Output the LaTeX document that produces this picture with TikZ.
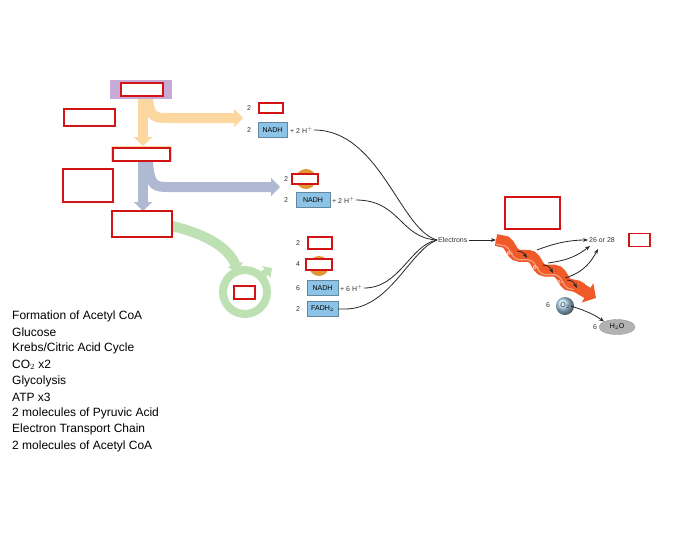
\documentclass[tikz,border=0pt]{standalone}
\usepackage{fontspec}
\setmainfont{Liberation Sans}
\usetikzlibrary{arrows.meta,decorations.pathmorphing,shapes.geometric}
\definecolor{redb}{RGB}{210,20,20}
\definecolor{nadh}{RGB}{140,195,230}
\definecolor{orng}{RGB}{252,215,160}
\definecolor{grayb}{RGB}{175,185,210}
\definecolor{grn}{RGB}{190,225,180}
\definecolor{purp}{RGB}{200,170,215}
\definecolor{etc}{RGB}{240,90,40}
\definecolor{gold}{RGB}{225,150,50}
\tikzset{
 blank/.style={draw=redb,line width=1.6pt,fill=white,inner sep=0pt},
 mol/.style={fill=nadh,draw=nadh!70!black,line width=0.3pt,font=\fontsize{7}{8}\selectfont,inner sep=1.5pt,minimum height=15pt},
 sm/.style={font=\fontsize{7}{8}\selectfont,text=black!80,inner sep=1pt},
 lst/.style={font=\fontsize{12}{13}\selectfont,anchor=west,inner sep=0pt},
 wire/.style={black!85,line width=0.8pt},
 ar/.style={wire,-{Stealth[length=5pt]}}
}
\begin{document}
\begin{tikzpicture}[x=1pt,y=-1pt]
\useasboundingbox (0,0) rectangle (700,550);
% pathway arrows
\draw[orng,line width=10pt,-{Triangle[length=9pt,width=18pt]}] (143,99) -- (143,146);
\draw[orng,line width=10pt,-{Triangle[length=9pt,width=18pt]}] (148,99) .. controls (150,118) and (155,118) .. (170,118) -- (243,118);
\draw[grayb,line width=10pt,-{Triangle[length=9pt,width=18pt]}] (143,162) -- (143,211);
\draw[grayb,line width=10pt,-{Triangle[length=9pt,width=18pt]}] (148,162) .. controls (150,187) and (155,187) .. (170,187) -- (280,187);
\draw[grn,line width=10pt,-{Triangle[length=8pt,width=16pt]}] (172,226) .. controls (210,235) and (230,250) .. (238,272);
\draw[grn,line width=8pt] (245,292) circle (22);
\draw[grn,line width=7pt,-{Triangle[length=7pt,width=14pt]}] (262,275) -- (272,268);
% left boxes
\node[fill=purp,minimum width=62pt,minimum height=19pt,inner sep=0pt] (p) at (141,89.5) {};
\node[blank,minimum width=42pt,minimum height=13pt] (b1) at (142,89.5) {};
\node[blank,minimum width=51pt,minimum height=17pt] (b2) at (89.5,117.5) {};
\node[fill=orng,minimum width=61pt,minimum height=16pt,inner sep=0pt] (o) at (141.5,154) {};
\node[blank,minimum width=57pt,minimum height=13pt] (b3) at (141.5,154.5) {};
\node[blank,minimum width=50pt,minimum height=33pt] (b4) at (88,185.5) {};
\node[blank,minimum width=60pt,minimum height=26pt] (b5) at (142,224) {};
\node[blank,minimum width=21pt,minimum height=13pt] (b6) at (244.5,292.5) {};
% right products
\node[sm] at (249,108) {2};
\node[blank,minimum width=24pt,minimum height=10pt] (a1) at (271,108) {};
\node[sm] at (249,130) {2};
\node[mol,minimum width=29pt] (n1) at (272.5,130) {NADH};
\node[sm,anchor=west] (h1) at (289,130) {+ 2 H$^+$};
\node[sm] at (286,179) {2};
\fill[gold] (306,179) circle (10);
\node[blank,minimum width=26pt,minimum height=10pt] (a2) at (305,179) {};
\node[sm] at (286,200) {2};
\node[mol,minimum width=34pt] (n2) at (313,200) {NADH};
\node[sm,anchor=west] (h2) at (331,200) {+ 2 H$^+$};
\node[sm] at (298,243) {2};
\node[blank,minimum width=24pt,minimum height=12pt] (a3) at (320,243) {};
\node[sm] at (298,264) {4};
\fill[gold] (319,266) circle (10);
\node[blank,minimum width=26pt,minimum height=11pt] (a4) at (319,264.5) {};
\node[sm] at (298,288) {6};
\node[mol,minimum width=31pt] (n3) at (322.5,288) {NADH};
\node[sm,anchor=west] (h3) at (339,288) {+ 6 H$^+$};
\node[sm] at (298,309) {2};
\node[mol,minimum width=31pt] (f) at (322.5,309) {FADH$_2$};
% ETC
\node[sm,anchor=west] (el) at (437,240) {Electrons};
\draw[wire] (h1.east) .. controls (380,130) and (400,230) .. (el.west);
\draw[wire] (h2.east) .. controls (400,200) and (400,238) .. (el.west);
\draw[wire] (h3.east) .. controls (400,288) and (410,245) .. (el.west);
\draw[wire] (f.east) -- (345,309) .. controls (390,309) and (410,250) .. (el.west);
\node[blank,minimum width=55pt,minimum height=32pt] (b7) at (532.5,213) {};
\coordinate (w0) at (496,240);
\coordinate (w1) at (582,289);
\draw[etc,line width=12pt,decorate,decoration={snake,amplitude=3pt,segment length=30pt}] (w0) -- (w1);
\draw[etc!60!white,line width=1.2pt,decorate,decoration={snake,amplitude=3pt,segment length=30pt}] ([yshift=-4pt]w0) -- ([yshift=-4pt]w1);
\draw[etc,line width=12pt,-{Triangle[length=10pt,width=22pt]}] (576,286) -- (596,298);
\draw[ar] (el.east) -- (w0);
\node[sm,text=white] at (510,254) {e-};
\node[sm,text=white] at (536,268) {e-};
\node[sm,text=white] at (560,283) {e-};
\draw[ar] (517,251) .. controls (523,252) .. (527,258);
\draw[ar] (543,265) .. controls (549,266) .. (553,273);
\draw[ar] (567,280) .. controls (573,281) .. (577,288);
\node[sm,anchor=west] (n28) at (588,240) {26 or 28};
\node[blank,minimum width=21pt,minimum height=13pt] (b8) at (639.5,240) {};
\draw[ar] (537,250) .. controls (555,243) and (570,240) .. (n28.west);
\draw[ar] (548,263) .. controls (570,260) and (578,255) .. (590,246);
\draw[ar] (565,278) .. controls (585,272) and (592,260) .. (598,249);
\node[sm] at (548,305) {6};
\shade[ball color=nadh!70] (565,306) circle (9);
\node[sm] (o2) at (565,306) {O$_2$};
\node[sm] at (595,327) {6};
\node[ellipse,fill=black!30,draw=black!40,minimum width=36pt,minimum height=15pt,inner sep=0pt,font=\fontsize{7}{8}\selectfont] (h2o) at (617,327) {H$_2$O};
\draw[ar] (o2.east) .. controls (590,312) and (596,316) .. (h2o.north west);
% list
\foreach \t [count=\i from 0] in {Formation of Acetyl CoA,Glucose,Krebs/Citric Acid Cycle,CO$_2$ x2,Glycolysis,ATP x3,2 molecules of Pyruvic Acid,Electron Transport Chain,2 molecules of Acetyl CoA}
 \node[lst] (l\i) at (12,316+16.25*\i) {\t};
\end{tikzpicture}
\end{document}
